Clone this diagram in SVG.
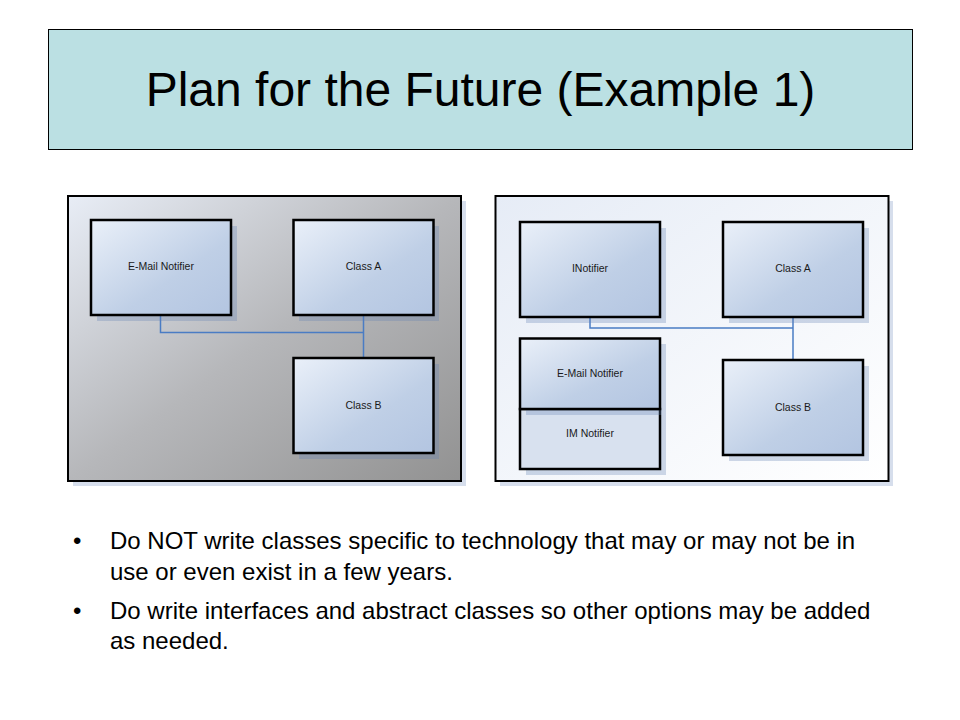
<svg xmlns="http://www.w3.org/2000/svg" width="960" height="720" viewBox="0 0 960 720">
<defs>
<linearGradient id="gPanelL" x1="0" y1="0" x2="1" y2="1">
<stop offset="0" stop-color="#e8edf6"/>
<stop offset="0.5" stop-color="#b6b7ba"/>
<stop offset="1" stop-color="#929292"/>
</linearGradient>
<linearGradient id="gPanelR" x1="0" y1="0" x2="1" y2="1">
<stop offset="0" stop-color="#e6ecf6"/>
<stop offset="1" stop-color="#ffffff"/>
</linearGradient>
<linearGradient id="gBox" x1="0" y1="0" x2="1" y2="1">
<stop offset="0" stop-color="#eaf0f9"/>
<stop offset="0.6" stop-color="#bfcfe6"/>
<stop offset="1" stop-color="#b3c5e1"/>
</linearGradient>
<style>
.title{font-family:"Liberation Sans",Arial,sans-serif;font-size:48px;fill:#000;text-anchor:middle}
.body{font-family:"Liberation Sans",Arial,sans-serif;font-size:24px;fill:#000}
.lbl{font-family:"Liberation Sans",Arial,sans-serif;font-size:10.5px;fill:#1a1a1a;text-anchor:middle}
.box{fill:url(#gBox);stroke:#000;stroke-width:2.5}
.flat{fill:#d8e1ef;stroke:#000;stroke-width:2.5}
.bshadow{fill:#6482b4;fill-opacity:0.3}
.pshadow{fill:#d6deec}
.conn{fill:none;stroke:#4a7cc4;stroke-width:1.5}
</style>
</defs>
<rect width="960" height="720" fill="#fff"/>
<g id="title">
<rect x="48.5" y="29.5" width="864" height="120" fill="#bbe0e3" stroke="#000" stroke-width="1"/>
<text class="title" x="480.5" y="106">Plan for the Future (Example 1)</text>
</g>
<g id="panel-left">
<rect class="pshadow" x="73" y="201" width="393" height="285"/>
<rect x="68" y="196" width="393" height="285" fill="url(#gPanelL)" stroke="#000" stroke-width="2"/>
</g>
<g id="panel-right">
<rect class="pshadow" x="500" y="201" width="393" height="285"/>
<rect x="495.5" y="196" width="393" height="285" fill="url(#gPanelR)" stroke="#000" stroke-width="2"/>
</g>
<g id="connectors">
<path class="conn" d="M160.5 315 V332.5 H363.5 M363.5 315 V358"/>
<path class="conn" d="M590 317 V328 H793 M793 317 V360"/>
</g>
<g id="L-email">
<rect class="bshadow" x="97" y="226" width="140" height="95"/>
<rect class="box" x="91" y="220" width="140" height="95"/>
<text class="lbl" x="161" y="270">E-Mail Notifier</text>
</g>
<g id="L-classA">
<rect class="bshadow" x="299" y="226" width="140" height="95"/>
<rect class="box" x="293.5" y="220" width="140" height="95"/>
<text class="lbl" x="363.5" y="270">Class A</text>
</g>
<g id="L-classB">
<rect class="bshadow" x="299" y="364" width="140" height="95"/>
<rect class="box" x="293.5" y="358" width="140" height="95"/>
<text class="lbl" x="363.5" y="409">Class B</text>
</g>
<g id="R-inotifier">
<rect class="bshadow" x="526" y="228" width="140" height="95"/>
<rect class="box" x="520" y="222" width="140" height="95"/>
<text class="lbl" x="590" y="272">INotifier</text>
</g>
<g id="R-classA">
<rect class="bshadow" x="729" y="228" width="140" height="95"/>
<rect class="box" x="723" y="222" width="140" height="95"/>
<text class="lbl" x="793" y="272">Class A</text>
</g>
<g id="R-classB">
<rect class="bshadow" x="729" y="366" width="140" height="95"/>
<rect class="box" x="723" y="360" width="140" height="95"/>
<text class="lbl" x="793" y="411">Class B</text>
</g>
<g id="R-imnotifier">
<rect class="bshadow" x="526" y="415" width="140" height="60"/>
<rect class="flat" x="520" y="409" width="140" height="60"/>
<text class="lbl" x="590" y="437">IM Notifier</text>
</g>
<g id="R-email">
<rect class="bshadow" x="526" y="344" width="140" height="71"/>
<rect class="box" x="520" y="338.5" width="140" height="70.5"/>
<text class="lbl" x="590" y="377">E-Mail Notifier</text>
</g>
<g id="bullets">
<text class="body" x="73" y="549">•</text>
<text class="body" x="110" y="549">Do NOT write classes specific to technology that may or may not be in</text>
<text class="body" x="110" y="580">use or even exist in a few years.</text>
<text class="body" x="73" y="619">•</text>
<text class="body" x="110" y="619">Do write interfaces and abstract classes so other options may be added</text>
<text class="body" x="110" y="649">as needed.</text>
</g>
</svg>
